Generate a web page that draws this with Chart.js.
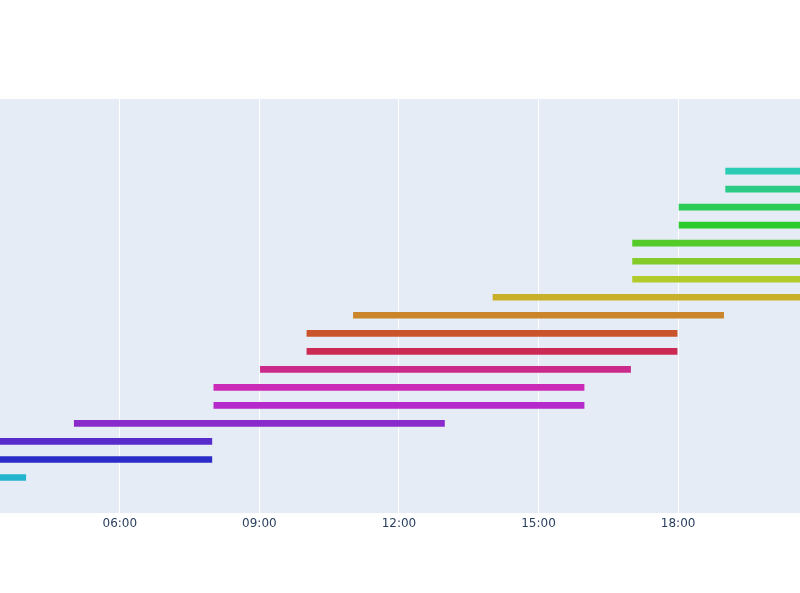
<!DOCTYPE html>
<html>
<head>
<meta charset="utf-8">
<script src="https://cdn.jsdelivr.net/npm/chart.js@4/dist/chart.umd.min.js"></script>
<style>
  html, body { margin: 0; padding: 0; background: #ffffff; }
  #wrap { width: 800px; height: 593px; }
</style>
</head>
<body>
<div id="wrap"><canvas id="c" width="800" height="593"></canvas></div>
<script>
// Tasks from bottom row to top row
const taskLabels = ['Task 1','Task 2','Task 3','Task 4','Task 5','Task 6','Task 7','Task 8','Task 9',
                    'Task 10','Task 11','Task 12','Task 13','Task 14','Task 15','Task 16','Task 17','Task 18'];
// start / end in hours of the day (values beyond the visible window are estimates)
const startHours = [-4, 0, 0, 5, 8, 8, 9, 10, 10, 11, 14, 17, 17, 17, 18, 18, 19, 19];
const endHours   = [ 4, 8, 8, 13, 16, 16, 17, 18, 18, 19, 22, 25, 25, 25, 26, 26, 27, 27];
const barColors = ['#22B4CC', '#2B2BC9', '#5A2BCB', '#8A2ACB', '#B52ACB', '#CB2AB6',
                   '#CB2A8A', '#CB2A55', '#CB552A', '#CB852A', '#C9B02A', '#B3CB2A',
                   '#84CB2A', '#55CB2A', '#2BCB2B', '#2BCB55', '#2BCB85', '#2BCBB5'];
const tickHours = [6, 9, 12, 15, 18];

const xMin = 3.425, xMax = 20.62;
const yMin = -1.97, yMax = 21.0;

const bgPlugin = {
  id: 'plotBg',
  beforeDraw(chart) {
    const { ctx, chartArea: a } = chart;
    ctx.save();
    ctx.fillStyle = '#ffffff';
    ctx.fillRect(0, 0, chart.width, chart.height);
    ctx.fillStyle = '#E5ECF6';
    ctx.fillRect(a.left, a.top, a.right - a.left, a.bottom - a.top);
    ctx.restore();
  }
};

const data = startHours.map((s, i) => ({ x: [s, endHours[i]], y: i }));

new Chart(document.getElementById('c'), {
  type: 'bar',
  data: {
    labels: taskLabels,
    datasets: [{
      label: 'Tasks',
      data: data,
      backgroundColor: barColors,
      borderColor: 'rgba(229,236,246,0.55)',
      borderWidth: 1,
      borderSkipped: false,
      barThickness: 8,
      grouped: false
    }]
  },
  plugins: [bgPlugin],
  options: {
    indexAxis: 'y',
    responsive: false,
    animation: false,
    devicePixelRatio: 1,
    layout: { padding: { top: 99, left: 0, right: 0, bottom: 0 } },
    plugins: { legend: { display: false }, tooltip: { enabled: false } },
    scales: {
      x: {
        type: 'linear',
        min: xMin,
        max: xMax,
        offset: false,
        border: { display: false },
        grid: { color: '#ffffff', lineWidth: 1, drawTicks: false },
        afterBuildTicks(scale) { scale.ticks = tickHours.map(v => ({ value: v })); },
        afterFit(scale) { scale.height = 80; },
        ticks: {
          padding: 4,
          autoSkip: false,
          maxRotation: 0,
          color: '#2a3f5f',
          font: { family: '"DejaVu Sans", Verdana, sans-serif', size: 12 },
          callback: v => String(Math.floor(v)).padStart(2, '0') + ':00'
        }
      },
      y: {
        type: 'linear',
        display: false,
        offset: false,
        min: yMin,
        max: yMax
      }
    }
  }
});
</script>
</body>
</html>
